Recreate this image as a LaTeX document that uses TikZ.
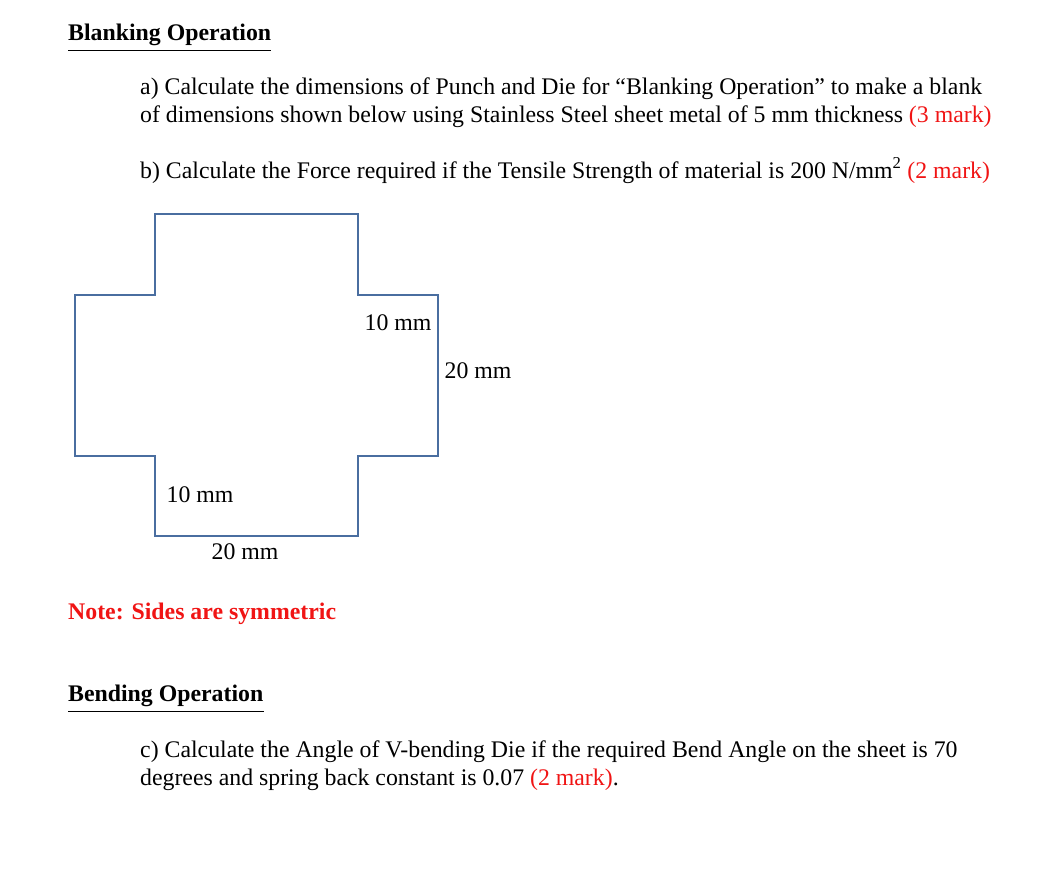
\documentclass[tikz,border=0pt]{standalone}
\usepackage{fontspec}
\setmainfont{Liberation Serif}
\definecolor{blankblue}{RGB}{74,110,160}
\definecolor{mark}{RGB}{240,20,20}
\tikzset{txt/.style={anchor=base west,inner sep=0pt,font=\fontsize{23.8}{27}\selectfont},
lab/.style={anchor=base,inner sep=0pt,font=\fontsize{23.8}{27}\selectfont}}
\begin{document}
\begin{tikzpicture}[x=1pt,y=-1pt]
\useasboundingbox (0,0) rectangle (1056,884);
\node[txt,font=\fontsize{23.8}{27}\selectfont\bfseries] (t1) at (68,40) {Blanking Operation};
\draw[line width=1.2pt] (t1.south west)++(0,5) -- ++(203,0);
\node[txt] (a1) at (140,94) {a) Calculate the dimensions of Punch and Die for “Blanking Operation” to make a blank};
\node[txt] (a2) at (140,122) {of dimensions shown below using Stainless Steel sheet metal of 5 mm thickness \textcolor{mark}{(3 mark)}};
\node[txt] (b1) at (140,178) {b) Calculate the Force required if the Tensile Strength of material is 200 N/mm\textsuperscript{2} \textcolor{mark}{(2 mark)}};
\draw[blankblue,line width=1.3pt] (155,214) -- (358,214) -- (358,295) -- (438,295) -- (438,456) -- (358,456) -- (358,536) -- (155,536) -- (155,456) -- (75,456) -- (75,295) -- (155,295) -- cycle;
\node[lab] (l1) at (398,330) {10 mm};
\node[lab] (l2) at (478,378) {20 mm};
\node[lab] (l3) at (200,502) {10 mm};
\node[lab] (l4) at (245,559) {20 mm};
\node[txt,text=mark,font=\fontsize{23.8}{27}\selectfont\bfseries] (n) at (68,619) {Note: Sides are symmetric};
\node[txt,font=\fontsize{23.8}{27}\selectfont\bfseries] (t2) at (68,701) {Bending Operation};
\draw[line width=1.2pt] (t2.south west)++(0,5) -- ++(196,0);
\node[txt] (c1) at (140,757) {c) Calculate the Angle of V-bending Die if the required Bend Angle on the sheet is 70};
\node[txt] (c2) at (140,785) {degrees and spring back constant is 0.07 \textcolor{mark}{(2 mark)}.};
\end{tikzpicture}
\end{document}
